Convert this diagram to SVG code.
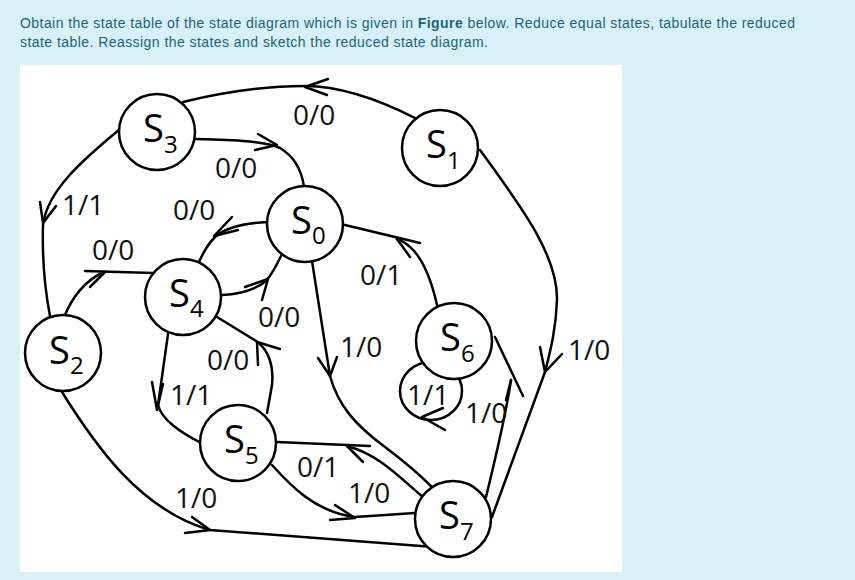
<svg xmlns="http://www.w3.org/2000/svg" width="855" height="580" viewBox="0 0 855 580">
<style>
.hdr{font-family:"Liberation Sans",Arial,sans-serif;font-size:14px;fill:#1d6478}
.e{fill:none;stroke:#000;stroke-width:2.5;stroke-linecap:round;stroke-linejoin:round}
.n{fill:#fff;stroke:#000;stroke-width:2.5}
.s{font-family:"Open Sans","Noto Sans",sans-serif;font-size:38px;fill:#000}
.sub{font-family:"Open Sans","Noto Sans",sans-serif;font-size:24px;fill:#000}
.lb{font-family:"Open Sans","Noto Sans",sans-serif;font-size:28px;fill:#111}
</style>
<rect x="0" y="0" width="855" height="580" fill="#d8f0f8"/>
<text class="hdr" x="20" y="28" textLength="775" lengthAdjust="spacing">Obtain the state table of the state diagram which is given in <tspan font-weight="bold">Figure</tspan> below. Reduce equal states, tabulate the reduced</text>
<text class="hdr" x="20" y="47" textLength="468" lengthAdjust="spacing">state table. Reassign the states and sketch the reduced state diagram.</text>
<rect x="20" y="65" width="602" height="507" fill="#fff"/>
<g id="connectors">
  <path class="e" d="M417,119 C380,100 340,86 305,86 C260,86 220,93 183,102"/>
  <path class="e" d="M328,79 L305,87 L327,95"/>
  <path class="e" d="M196,139 C235,140 265,141 280,148 C295,157 302,172 304,187"/>
  <path class="e" d="M258,134 L277,145 L255,150"/>
  <path class="e" d="M120,129 C85,158 47,190 43,225 C42,260 45,290 50,316"/>
  <path class="e" d="M40,202 L43,223 L56,206"/>
  <path class="e" d="M65,315 C72,298 85,280 104,272"/>
  <path class="e" d="M85,271 L153,273"/>
  <path class="e" d="M90,287 L105,272"/>
  <path class="e" d="M268,222 C245,223 225,228 215,237 C207,245 203,253 199,262"/>
  <path class="e" d="M232,217 L214,236 L238,230"/>
  <path class="e" d="M222,295 C240,294 255,290 266,281 C273,273 277,264 281,256"/>
  <path class="e" d="M245,287 L268,279 L262,300"/>
  <path class="e" d="M217,317 L256,341 C268,349 274,365 272,385 L267,413"/>
  <path class="e" d="M258,365 L257,342 L280,349"/>
  <path class="e" d="M168,334 L158,405 C162,420 180,432 201,443"/>
  <path class="e" d="M152,382 L157,410 L163,384"/>
  <path class="e" d="M312,261 L330,376 C338,405 355,425 385,447 C405,462 420,475 432,487"/>
  <path class="e" d="M318,358 L330,376 L337,357"/>
  <path class="e" d="M345,225 L420,243"/>
  <path class="e" d="M397,239 C415,245 428,265 437,305"/>
  <path class="e" d="M397,239 L410,257"/>
  <path class="e" d="M480,150 C520,205 558,255 557,300 C556,330 550,352 545,372 L492,517"/>
  <path class="e" d="M540,347 L545,372 L562,354"/>
  <path class="e" d="M486,497 C495,460 505,420 511,380"/>
  <path class="e" d="M495,337 L523,396"/>
  <path class="e" d="M511,380 L506,400"/>
  <ellipse class="e" cx="431" cy="391" rx="31" ry="29"/>
  <path class="e" d="M443,408 L422,417 L445,430"/>
  <path class="e" d="M277,442 L370,446"/>
  <path class="e" d="M347,446 C380,455 400,478 423,497"/>
  <path class="e" d="M347,446 L363,462"/>
  <path class="e" d="M272,465 C290,485 315,512 355,517 L415,513"/>
  <path class="e" d="M335,505 L355,518 L330,520"/>
  <path class="e" d="M62,392 C95,445 140,510 210,530 L434,547"/>
  <path class="e" d="M192,517 L210,530 L185,533"/>
</g>
<g id="labels">
  <text class="lb" x="293" y="125">0/0</text>
  <text class="lb" x="215" y="178">0/0</text>
  <text class="lb" x="62" y="215">1/1</text>
  <text class="lb" x="173" y="220">0/0</text>
  <text class="lb" x="92" y="260">0/0</text>
  <text class="lb" x="258" y="327">0/0</text>
  <text class="lb" x="360" y="285">0/1</text>
  <text class="lb" x="207" y="370">0/0</text>
  <text class="lb" x="170" y="405">1/1</text>
  <text class="lb" x="340" y="357">1/0</text>
  <text class="lb" x="407" y="405">1/1</text>
  <text class="lb" x="465" y="423">1/0</text>
  <text class="lb" x="568" y="360">1/0</text>
  <text class="lb" x="297" y="477">0/1</text>
  <text class="lb" x="348" y="503">1/0</text>
  <text class="lb" x="175" y="508">1/0</text>
</g>
<g id="S3"><circle class="n" cx="157" cy="132" r="38"/><text class="s" x="143" y="142">S</text><text class="sub" x="164" y="153">3</text></g>
<g id="S1"><circle class="n" cx="440" cy="148" r="38"/><text class="s" x="426" y="158">S</text><text class="sub" x="447" y="169">1</text></g>
<g id="S0"><circle class="n" cx="305" cy="224" r="38"/><text class="s" x="291" y="234">S</text><text class="sub" x="312" y="244">0</text></g>
<g id="S4"><circle class="n" cx="183" cy="297" r="38"/><text class="s" x="169" y="307">S</text><text class="sub" x="190" y="317">4</text></g>
<g id="S2"><circle class="n" cx="63" cy="353" r="38"/><text class="s" x="49" y="364">S</text><text class="sub" x="70" y="374">2</text></g>
<g id="S6"><circle class="n" cx="454" cy="341" r="38"/><text class="s" x="440" y="351">S</text><text class="sub" x="461" y="362">6</text></g>
<g id="S5"><circle class="n" cx="238" cy="443" r="38"/><text class="s" x="224" y="453">S</text><text class="sub" x="245" y="464">5</text></g>
<g id="S7"><circle class="n" cx="453" cy="519" r="38"/><text class="s" x="439" y="529">S</text><text class="sub" x="460" y="540">7</text></g>
</svg>
